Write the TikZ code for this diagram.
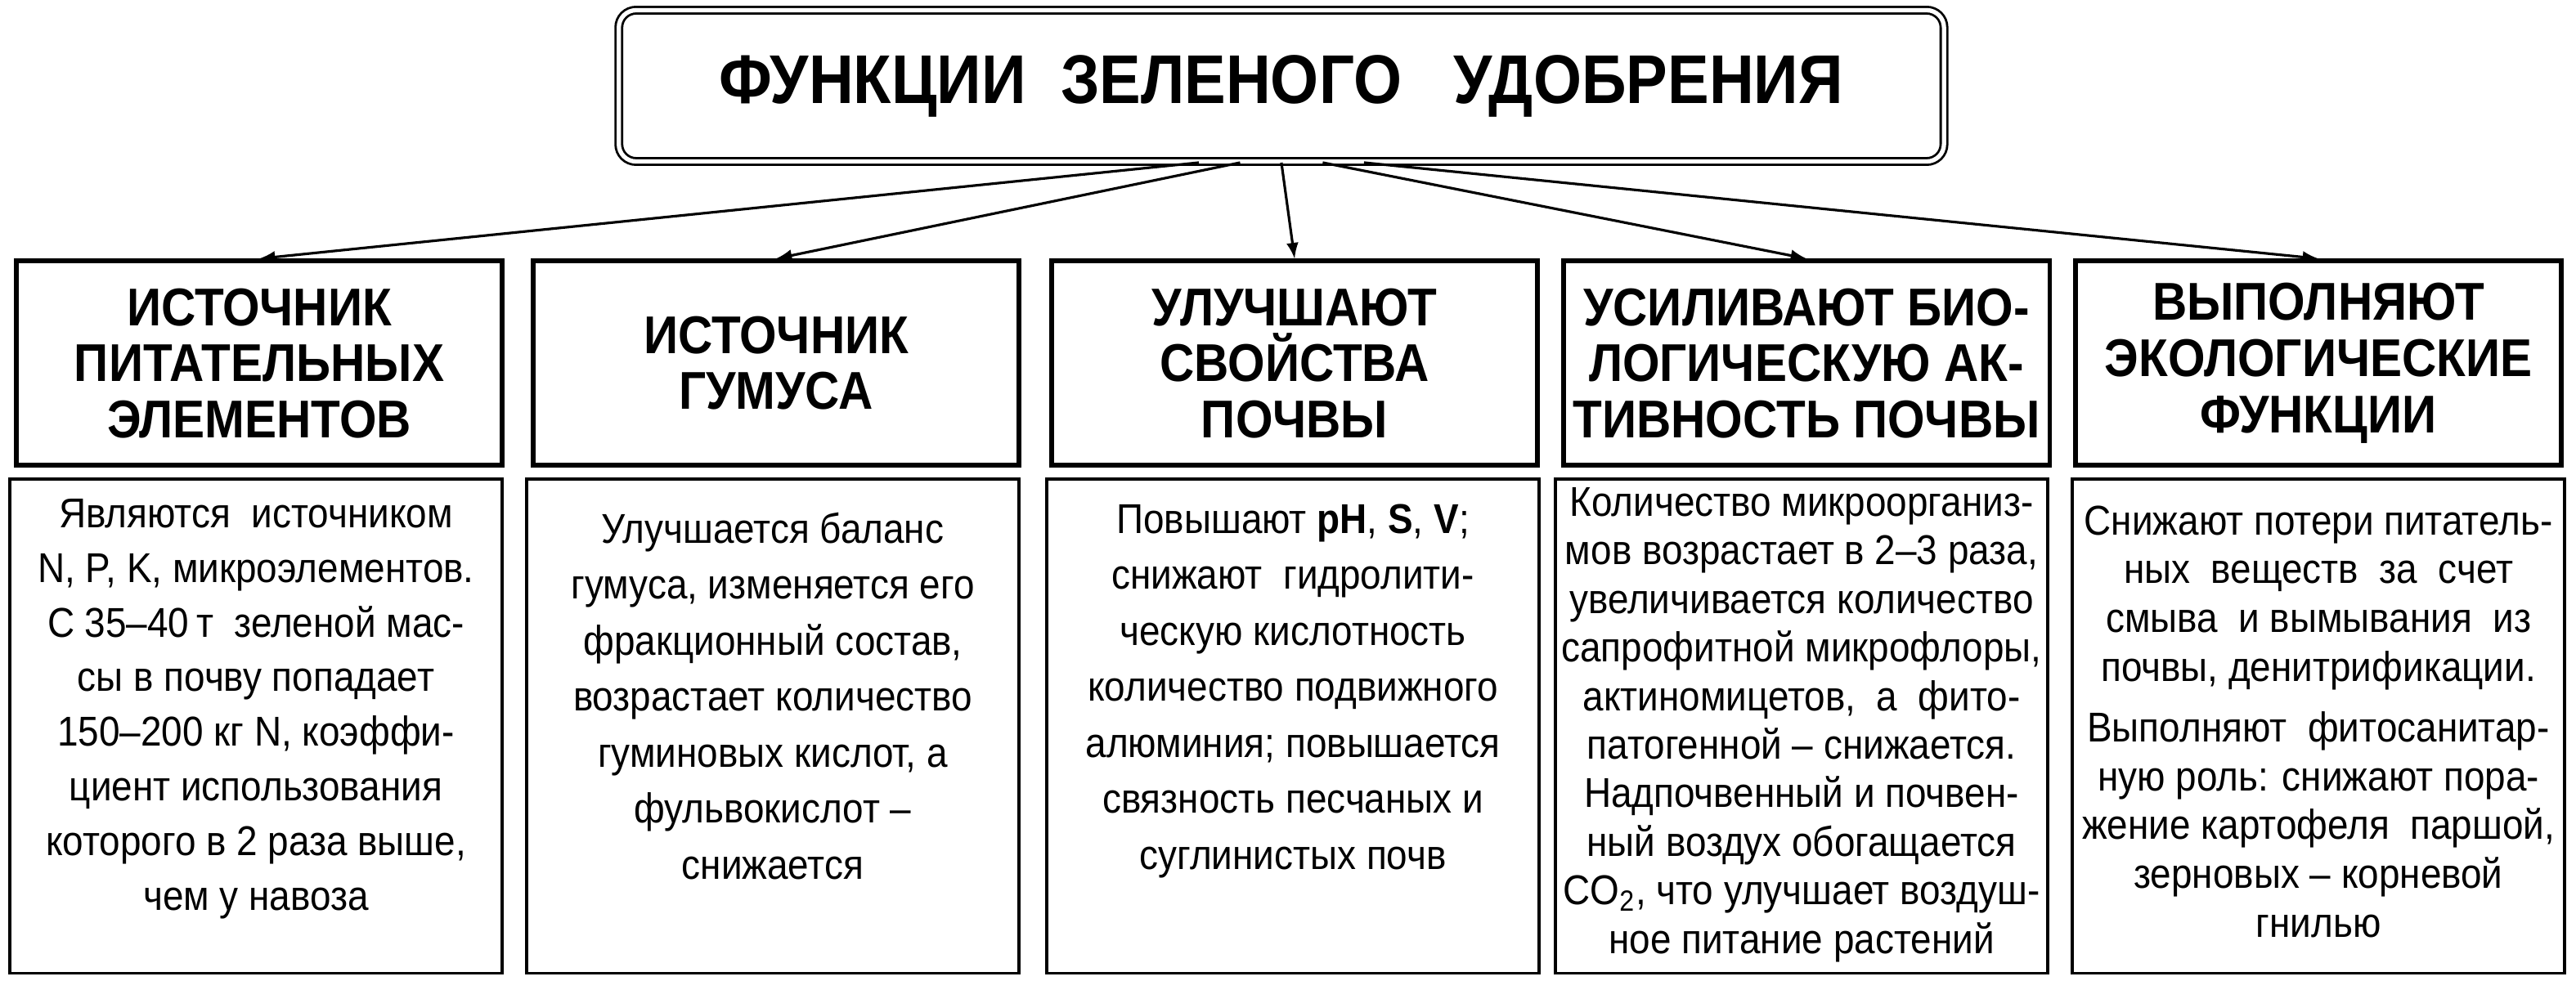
\documentclass[tikz,border=0pt]{standalone}
\usepackage{fontspec}
\setmainfont{Liberation Sans}
\newfontfamily\narrowfont[FakeStretch=0.9]{Liberation Sans}
\usetikzlibrary{positioning}
\tikzset{
  hdr/.style={draw, line width=1.6pt, minimum width=5.94cm, minimum height=2.5cm,
    align=center, font=\narrowfont\fontsize{18.5}{19.5}\selectfont\bfseries},
  body/.style={draw, line width=1.1pt, minimum width=6.02cm, minimum height=6.04cm},
  btext/.style={anchor=north, align=center, inner sep=0pt,
    font=\narrowfont\fontsize{14.5}{#1}\selectfont},
  btext/.default=18.5pt,
  fan/.style={-latex, line width=0.9pt}
}
\begin{document}
\begin{tikzpicture}[x=0.02019cm, y=-0.02019cm]
\useasboundingbox (0,0) rectangle (1560,594);
% title
\node (top) [draw, rounded corners=6pt, double, double distance=1.5pt, line width=0.8pt,
  minimum width=16.2cm, minimum height=1.85cm,
  font=\narrowfont\fontsize{24}{26}\selectfont\bfseries] at (776,52)
  {ФУНКЦИИ\ \ ЗЕЛЕНОГО\ \ \ УДОБРЕНИЯ};
% headers
\node (h1) [hdr] at (157,220) {ИСТОЧНИК\\ПИТАТЕЛЬНЫХ\\ЭЛЕМЕНТОВ};
\node (h2) [hdr] at (470,220) {ИСТОЧНИК\\ГУМУСА};
\node (h3) [hdr] at (784,220) {УЛУЧШАЮТ\\СВОЙСТВА\\ПОЧВЫ};
\node (h4) [hdr] at (1094,220) {УСИЛИВАЮТ БИО-\\ЛОГИЧЕСКУЮ АК-\\ТИВНОСТЬ ПОЧВЫ};
\node (h5) [hdr] at (1404,220) {ВЫПОЛНЯЮТ\\ЭКОЛОГИЧЕСКИЕ\\ФУНКЦИИ};
% bodies
\node (b1) [body] at (155,440) {};
\node (b2) [body] at (468,440) {};
\node (b3) [body] at (783,440) {};
\node (b4) [body] at (1091,440) {};
\node (b5) [body] at (1404,440) {};
\node (t1) [btext=19pt] at (155,302) {Являются\ \ источником\\N, P, K, микроэлементов.\\
  С 35–40\,т\ \ зеленой мас-\\сы в почву попадает\\150–200 кг N, коэффи-\\
  циент использования\\которого в 2 раза выше,\\чем у навоза};
\node (t2) [btext=19.5pt] at (468,310) {Улучшается баланс\\гумуса, изменяется его\\
  фракционный состав,\\возрастает количество\\гуминовых кислот, а\\
  фульвокислот –\\снижается};
\node (t3) [btext=19.5pt] at (783,305) {Повышают \textbf{pH}, \textbf{S}, \textbf{V};\\
  снижают\ \ гидролити-\\ческую кислотность\\количество подвижного\\
  алюминия; повышается\\связность песчаных и\\суглинистых почв};
\node (t4) [btext=16.9pt] at (1091,295) {Количество микроорганиз-\\мов возрастает в 2–3 раза,\\
  увеличивается количество\\сапрофитной микрофлоры,\\актиномицетов,\ \ а\ \ фито-\\
  патогенной – снижается.\\Надпочвенный и почвен-\\ный воздух обогащается\\
  CO\textsubscript{2}, что улучшает воздуш-\\ное питание растений};
\node (t5) [btext=17pt] at (1404,306) {Снижают потери питатель-\\ных\ \ веществ\ \ за\ \ счет\\
  смыва\ \ и вымывания\ \ из\\почвы, денитрификации.\\[4pt]Выполняют\ \ фитосанитар-\\
  ную роль: снижают пора-\\жение картофеля\ \ паршой,\\зерновых – корневой\\гнилью};
% arrows
\draw [fan] (top.south) ++(-50,0) -- (h1.north);
\draw [fan] (top.south) ++(-25,0) -- (h2.north);
\draw [fan] (top.south) -- (h3.north);
\draw [fan] (top.south) ++(25,0) -- (h4.north);
\draw [fan] (top.south) ++(50,0) -- (h5.north);
\end{tikzpicture}
\end{document}
